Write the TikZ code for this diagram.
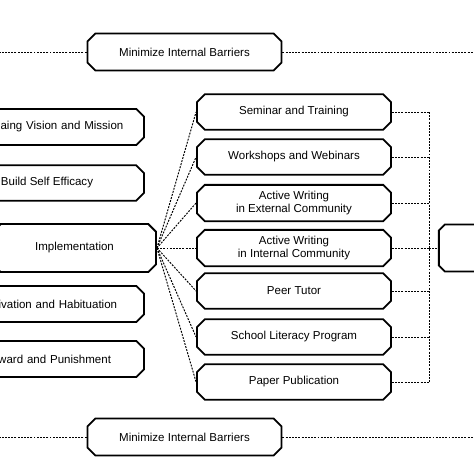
\documentclass[tikz,border=0pt]{standalone}
\usepackage{fontspec}
\setmainfont{Liberation Sans}
\usetikzlibrary{shapes.misc,positioning,calc}

\begin{document}
\begin{tikzpicture}[x=0.72pt,y=-0.72pt,font=\fontsize{8.3}{9.8}\selectfont]
    \tikzstyle{box}=[chamfered rectangle, chamfered rectangle sep=2.8pt, draw, line width=1.3pt, inner ysep=1.5pt]
    \tikzstyle{wide}=[box, minimum width=139.7pt, minimum height=25.5pt, align=center]
    \tikzstyle{cut}=[box, minimum height=26pt, text width=101pt, inner xsep=16.6pt, align=right]
    \tikzstyle{link}=[dash pattern=on 1.4pt off 0.9pt, line width=0.7pt]

    \clip (0,0) rectangle (474,474);
    \coordinate (edgeL) at (0,0);
    \coordinate (edgeR) at (474,0);
    \coordinate (bus) at (429,0);

    % barriers
    \node[wide, minimum height=26.6pt] (bartop) at (184.5,52) {Minimize Internal Barriers};
    \node[wide, minimum height=26.6pt] (barbot) at (184.5,437) {Minimize Internal Barriers};

    % left column
    \node[cut, text width=110pt, inner xsep=12.1pt] (vision) at (47,127) {aing Vision and Mission};
    \node[wide]               (efficacy) at (47,183) {Build Self Efficacy};
    \node[box, minimum width=117.4pt, minimum height=34.6pt] (impl) at (74.5,248) {Implementation};
    \node[cut]                (motiv) at (47,304) {ivation and Habituation};
    \node[cut, text width=92.2pt, inner xsep=21pt] (reward) at (47,359) {ward and Punishment};

    % middle column
    \node[wide] (seminar) at (294,112) {Seminar and Training};
    \node[wide] (workshop) at (294,157) {Workshops and Webinars};
    \node[wide] (external) at (294,203) {Active Writing\\in External Community};
    \node[wide] (internal) at (294,248) {Active Writing\\in Internal Community};
    \node[wide] (peer) at (294,291) {Peer Tutor};
    \node[wide] (school) at (294,337) {School Literacy Program};
    \node[wide] (paper) at (294,382) {Paper Publication};

    % right
    \node[box, minimum width=100pt, minimum height=33.8pt, anchor=west] (goal) at (438,248) {};

    \draw[link] (bartop.west) -- (bartop.west -| edgeL);
    \draw[link] (bartop.east) -- (bartop.east -| edgeR);
    \draw[link] (barbot.west) -- (barbot.west -| edgeL);
    \draw[link] (barbot.east) -- (barbot.east -| edgeR);

    \foreach \n in {seminar,workshop,external,internal,peer,school,paper}{
      \draw[link] (impl.east) -- (\n.west);
      \draw[link] (\n.east) -- (\n.east -| bus);
    }
    \draw[link] (seminar.east -| bus) -- (paper.east -| bus);
    \draw[link] (internal.east -| bus) -- (goal.west);
\end{tikzpicture}
\end{document}
